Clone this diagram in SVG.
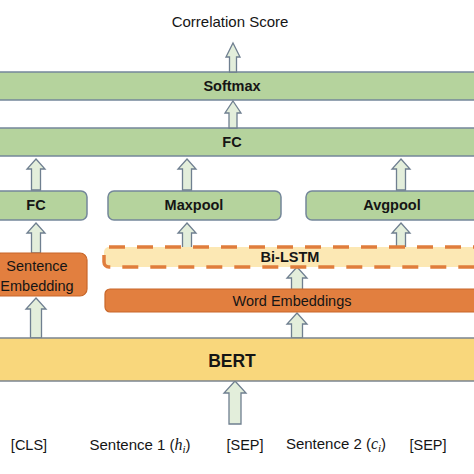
<svg xmlns="http://www.w3.org/2000/svg" width="474" height="474" viewBox="0 0 474 474">
<style>
.bar{fill:#b5d39d;stroke:#74879a;stroke-width:1.5}
.bert{fill:#f9d77c;stroke:#7b8590;stroke-width:1.5}
.orange{fill:#e27f3f;stroke:#c8672a;stroke-width:1.2}
.lstm{fill:#fce8b4;stroke:#e07d3c;stroke-width:3.5;stroke-dasharray:16 12}
.arrow{fill:#e3eedb;stroke:#6f7f90;stroke-width:1.3;stroke-linejoin:miter}
text{font-family:"Liberation Sans",Arial,sans-serif;fill:#151515;text-anchor:middle}
.b{font-weight:bold}
.m{font-family:"Liberation Serif","DejaVu Serif",serif;font-style:italic}
</style>
<rect width="474" height="474" fill="#ffffff"/>
<text x="230" y="27" font-size="15">Correlation Score</text>

<g id="softmax"><rect class="bar" x="-3" y="72" width="480" height="28"/><text class="b" x="232" y="91" font-size="14.5">Softmax</text></g>
<g id="fc-top"><rect class="bar" x="-3" y="128" width="480" height="28"/><text class="b" x="232" y="147" font-size="14.5">FC</text></g>
<g id="fc-left"><rect class="bar" x="-6" y="191" width="93" height="29" rx="6"/><text class="b" x="36" y="210" font-size="14.5">FC</text></g>
<g id="maxpool"><rect class="bar" x="108" y="191" width="173" height="29" rx="6"/><text class="b" x="194" y="210" font-size="14.5">Maxpool</text></g>
<g id="avgpool"><rect class="bar" x="306" y="191" width="180" height="29" rx="6"/><text class="b" x="392" y="210" font-size="14.5">Avgpool</text></g>

<g id="connectors">
<polygon class="arrow" points="233,43 240,57 236.5,57 236.5,72 229.5,72 229.5,57 226,57"/>
<polygon class="arrow" points="233,101 241,113 237,113 237,128 229,128 229,113 225,113"/>
<polygon class="arrow" points="36,159 45,169 40.5,169 40.5,190 31.5,190 31.5,169 27,169"/>
<polygon class="arrow" points="187,159 196,169 191.5,169 191.5,190 182.5,190 182.5,169 178,169"/>
<polygon class="arrow" points="401,159 410,169 405.5,169 405.5,190 396.5,190 396.5,169 392,169"/>
<polygon class="arrow" points="36,223 45,233 40.5,233 40.5,253 31.5,253 31.5,233 27,233"/>
<polygon class="arrow" points="187,223 196,233 191.5,233 191.5,250 182.5,250 182.5,233 178,233"/>
<polygon class="arrow" points="401,223 410,233 405.5,233 405.5,250 396.5,250 396.5,233 392,233"/>
<polygon class="arrow" points="297,267 307,278 302.5,278 302.5,290 291.5,290 291.5,278 287,278"/>
<polygon class="arrow" points="297,313 307,324 302.5,324 302.5,338 291.5,338 291.5,324 287,324"/>
<polygon class="arrow" points="36,298 46,309 41.5,309 41.5,338 30.5,338 30.5,309 26,309"/>
<polygon class="arrow" points="235,381 246,393 241,393 241,424 229,424 229,393 224,393"/>
</g>

<g id="bilstm"><rect class="lstm" x="104" y="247" width="390" height="20" rx="5"/><text class="b" x="290" y="262" font-size="14.5">Bi-LSTM</text></g>
<g id="sentence-embedding"><rect class="orange" x="-6" y="253" width="93" height="43" rx="7"/><text x="37" y="271" font-size="14.5">Sentence</text><text x="37" y="291" font-size="14.5">Embedding</text></g>
<g id="word-embeddings"><rect class="orange" x="105" y="289" width="380" height="23" rx="5"/><text x="292" y="306" font-size="14.5">Word Embeddings</text></g>
<g id="bert"><rect class="bert" x="-3" y="338" width="480" height="43"/><text class="b" x="232" y="367" font-size="17.5">BERT</text></g>

<text x="29" y="450" font-size="14.5">[CLS]</text>
<text x="140" y="450" font-size="15">Sentence 1 (<tspan class="m" font-size="16">h</tspan><tspan class="m" font-size="11" dy="3">i</tspan><tspan dy="-3">)</tspan></text>
<text x="245" y="450" font-size="14.5">[SEP]</text>
<text x="336" y="449" font-size="15">Sentence 2 (<tspan class="m" font-size="16">c</tspan><tspan class="m" font-size="11" dy="3">i</tspan><tspan dy="-3">)</tspan></text>
<text x="428" y="450" font-size="14.5">[SEP]</text>
</svg>
